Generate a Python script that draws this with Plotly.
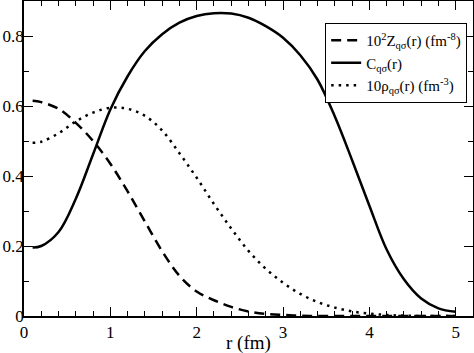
import plotly.graph_objects as go

r = [0.1, 0.2, 0.4, 0.6, 0.8, 1.0, 1.2, 1.4, 1.6, 1.8, 2.0, 2.2, 2.4, 2.6,
     2.8, 3.0, 3.2, 3.4, 3.6, 3.8, 4.0, 4.2, 4.4, 4.6, 4.8, 5.0]
z_vals = [0.615, 0.611, 0.592, 0.552, 0.500, 0.435, 0.356, 0.270, 0.185, 0.115,
          0.070, 0.045, 0.026, 0.013, 0.006, 0.003, 0.001, 0.0, 0.0, 0.0,
          0.0, 0.0, 0.0, 0.0, 0.0, 0.0]
c_vals = [0.196, 0.200, 0.240, 0.335, 0.462, 0.590, 0.685, 0.757, 0.805, 0.838,
          0.857, 0.865, 0.864, 0.852, 0.828, 0.795, 0.745, 0.675, 0.570, 0.445,
          0.315, 0.190, 0.105, 0.050, 0.022, 0.012]
rho_vals = [0.495, 0.498, 0.522, 0.556, 0.581, 0.595, 0.592, 0.572, 0.530, 0.465,
            0.395, 0.320, 0.250, 0.186, 0.135, 0.095, 0.063, 0.040, 0.024, 0.013,
            0.007, 0.003, 0.001, 0.0, 0.0, 0.0]

names = ["10<sup>2</sup>Z<sub>qσ</sub>(r) (fm<sup>-8</sup>)",
         "C<sub>qσ</sub>(r)",
         "10ρ<sub>qσ</sub>(r) (fm<sup>-3</sup>)"]
x_title = "r (fm)"

font = "Liberation Serif"

fig = go.Figure()
fig.add_trace(go.Scatter(x=r, y=z_vals, mode="lines", name=names[0],
                         line=dict(color="black", width=2.5, dash="10px,6px",
                                   shape="spline", smoothing=1)))
fig.add_trace(go.Scatter(x=r, y=c_vals, mode="lines", name=names[1],
                         line=dict(color="black", width=2.5, shape="spline", smoothing=1)))
fig.add_trace(go.Scatter(x=r, y=rho_vals, mode="lines", name=names[2],
                         line=dict(color="black", width=2.5, dash="2.5px,5px",
                                   shape="spline", smoothing=1)))

axis_common = dict(showgrid=False, zeroline=False, showline=True, linecolor="black",
                   linewidth=1.5, mirror="allticks", ticks="inside", ticklen=9,
                   tickwidth=1, tickcolor="black", automargin=False,
                   tickfont=dict(family=font, size=17, color="black"))

fig.update_xaxes(range=[0, 5.2], dtick=1, tick0=0,
                 minor=dict(dtick=0.2, ticks="inside", ticklen=5, tickcolor="black"),
                 **axis_common)
fig.update_yaxes(range=[0, 0.9], dtick=0.2, tick0=0, ticklabelstandoff=-5,
                 minor=dict(dtick=0.1, ticks="inside", ticklen=5, tickcolor="black"),
                 **axis_common)

fig.add_annotation(text=x_title, xref="paper", yref="paper", x=0.5, y=-0.087,
                   xanchor="center", yanchor="middle", showarrow=False,
                   font=dict(family=font, size=19, color="black"))

fig.update_layout(
    width=474, height=353,
    margin=dict(l=24, r=1, t=1, b=37),
    paper_bgcolor="white", plot_bgcolor="white",
    font=dict(family=font, color="black"),
    showlegend=True,
    legend=dict(x=0.987, y=0.93, xanchor="right", yanchor="top",
                bgcolor="white", bordercolor="black", borderwidth=1,
                font=dict(family=font, size=15, color="black"),
                tracegroupgap=0),
)

fig.write_html("out.html")
